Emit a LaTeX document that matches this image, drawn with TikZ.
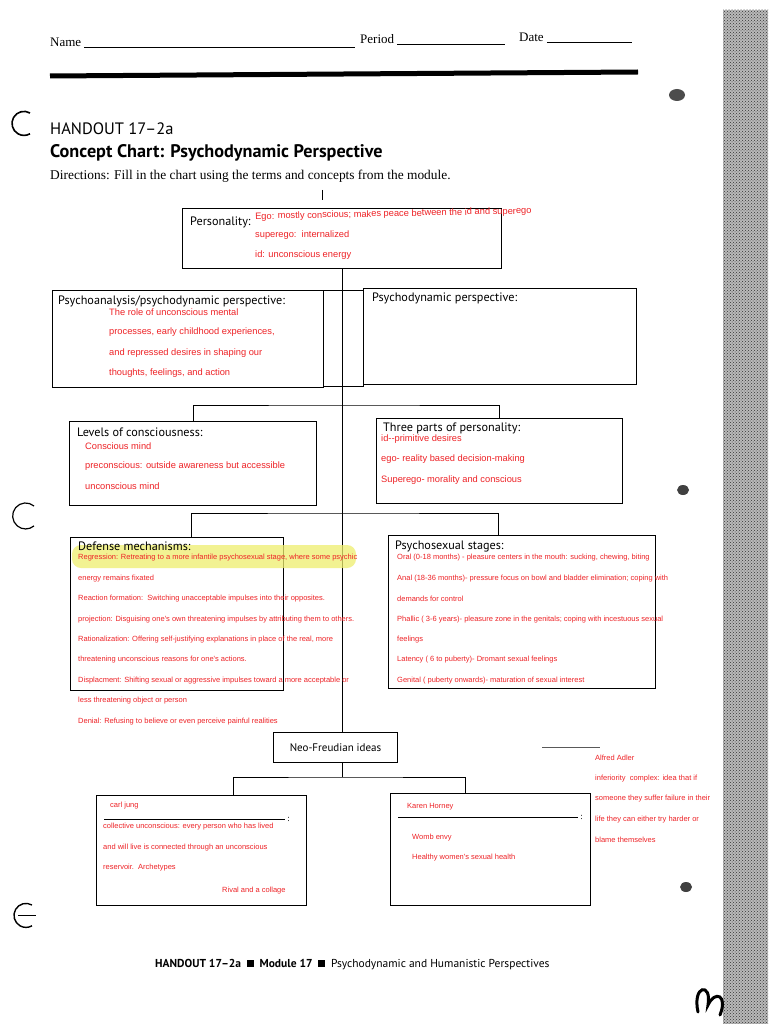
\documentclass[tikz,border=0pt]{standalone}
\usepackage{fontspec}
\setmainfont{Liberation Serif}
\newfontfamily\headfont{PT Sans}
\newfontfamily\inkfont{Liberation Sans}
\usetikzlibrary{positioning}
\usetikzlibrary{patterns}
\definecolor{inkred}{RGB}{238,34,38}
\definecolor{marker}{RGB}{238,238,110}

\begin{document}
\begin{tikzpicture}[x=1pt, y=-1pt,
    chartbox/.style={draw, line width=1pt, inner sep=0pt, anchor=north west},
    head/.style={anchor=west, inner sep=0pt, font=\headfont\fontsize{12.2}{14}\selectfont},
    redtext/.style={anchor=west, inner sep=0pt, text=inkred, font=\inkfont\fontsize{9.3}{11}\selectfont},
    tinyred/.style={redtext, font=\inkfont\fontsize{7.5}{9}\selectfont},
    link/.style={line width=0.9pt},
    blank/.style={line width=0.7pt}]
    \useasboundingbox (0,0) rectangle (768,1024);
    \fill[white] (0,0) rectangle (768,1024);

    % scanned page edge
    \fill[gray!55] (723,10) rectangle (768,1024);
    \fill[pattern=crosshatch dots, pattern color=black!80] (723,10) rectangle (768,1024);

    % punch holes
    \draw[line width=1.6pt] (30,113) arc[start angle=-60, end angle=-300, radius=12];
    \draw[line width=1.2pt] (34,506) arc[start angle=-50, end angle=-310, radius=13];
    \draw[line width=1.4pt] (32,905) arc[start angle=-60, end angle=-300, radius=12];
    \draw[line width=1pt] (18,915) -- (36,915);

    % header
    \node[anchor=base west, inner sep=0pt, font=\fontsize{13}{15}\selectfont] (name) at (50,47) {Name};
    \draw[blank] ([xshift=3pt]name.base east) -- (355,47);
    \node[anchor=base west, inner sep=0pt, font=\fontsize{13}{15}\selectfont] (period) at (360,44) {Period};
    \draw[blank] ([xshift=3pt]period.base east) -- (505,44);
    \node[anchor=base west, inner sep=0pt, font=\fontsize{13}{15}\selectfont] (date) at (519,42) {Date};
    \draw[blank] ([xshift=3pt]date.base east) -- (632,42);
    \draw[line width=5pt] (50,76) -- (638,72);

    \node[anchor=base west, inner sep=0pt, font=\headfont\fontsize{16.5}{19}\selectfont] (handout) at (50,135) {HANDOUT 17–2a};
    \node[anchor=base west, inner sep=0pt, font=\headfont\bfseries\fontsize{18.2}{21}\selectfont] (title) at (50,158) {Concept Chart: Psychodynamic Perspective};
    \node[anchor=base west, inner sep=0pt, font=\fontsize{13.4}{15}\selectfont] (directions) at (50,180) {Directions: Fill in the chart using the terms and concepts from the module.};
    \draw (322,190) -- (322,200);

    % boxes
    \node[chartbox, minimum width=319pt, minimum height=60pt] (pers) at (182,208) {};
    \node[chartbox, minimum width=271pt, minimum height=97pt] (psa) at (52,290) {};
    \node[chartbox, minimum width=40pt, minimum height=96pt] (gap) at (323,290) {};
    \node[chartbox, minimum width=273pt, minimum height=96pt] (psd) at (363,288) {};
    \node[chartbox, minimum width=247pt, minimum height=84pt] (lev) at (69,421) {};
    \node[chartbox, minimum width=246pt, minimum height=85pt] (three) at (376,418) {};
    \node[chartbox, minimum width=213pt, minimum height=153pt] (def) at (70,537) {};
    \node[chartbox, minimum width=267pt, minimum height=153pt] (sex) at (388,535) {};
    \node[chartbox, minimum width=124pt, minimum height=30pt] (neo) at (273,732) {};
    \node[chartbox, minimum width=210pt, minimum height=110pt] (jung) at (96,795) {};
    \node[chartbox, minimum width=200pt, minimum height=112pt] (horney) at (390,793) {};

    % connectors
    \draw[link] (pers.south) -- (pers.south |- neo.north);
    \path (pers.south) ++(0,136) coordinate (j1) ++(0,108) coordinate (j2);
    \draw[link] (lev.north) |- (j1) -| (three.north);
    \draw[link] ([xshift=14.5pt]def.north) |- (j2) -| ([xshift=-23.5pt]sex.north);
    \path (neo.south -| pers.south) ++(0,14) coordinate (j3);
    \draw[link] (neo.south -| pers.south) -- (j3);
    \draw[link] ([xshift=32pt]jung.north) |- (j3) -| ([xshift=-25pt]horney.north);

    % Personality
    \node[head] (perslbl) at (190,222) {Personality:};
    \node[redtext, rotate=1.2] (ego) at (255,217) {Ego: mostly conscious; makes peace between the id and superego};
    \node[redtext] (superego) at (255,235) {superego:\ \ internalized};
    \node[redtext] (id) at (255,255) {id: unconscious energy};

    % perspectives
    \node[head] (psalbl) at (58,301) {Psychoanalysis/psychodynamic perspective:};
    \foreach \t [count=\i] in {The role of unconscious mental, {processes, early childhood experiences,}, and repressed desires in shaping our, {thoughts, feelings, and action}} {
        \node[redtext] (psa\i) at (109,{312+20.5*(\i-1)}) {\t};
    }
    \node[head] (psdlbl) at (372,298) {Psychodynamic perspective:};

    % levels and parts
    \node[head] (levlbl) at (77,432) {Levels of consciousness:};
    \foreach \t [count=\i] in {Conscious mind, preconscious: outside awareness but accessible, unconscious mind} {
        \node[redtext] (lev\i) at (85,{446+20*(\i-1)}) {\t};
    }
    \node[head] (threelbl) at (383,428) {Three parts of personality:};
    \foreach \t [count=\i] in {id--primitive desires, ego- reality based decision-making, Superego- morality and conscious} {
        \node[redtext] (three\i) at (381,{439+20.5*(\i-1)}) {\t};
    }

    % defense mechanisms
    \fill[marker, opacity=0.75, rounded corners=9pt] (72,545) rectangle (356,568);
    \node[head] (deflbl) at (78,546) {Defense mechanisms:};
    \foreach \t [count=\i] in {{Regression: Retreating to a more infantile psychosexual stage, where some psychic},
        energy remains fixated,
        Reaction formation:\ \ Switching unacceptable impulses into their opposites.,
        projection: Disguising one's own threatening impulses by attributing them to others.,
        {Rationalization: Offering self-justifying explanations in place of the real, more},
        threatening unconscious reasons for one's actions.,
        Displacment: Shifting sexual or aggressive impulses toward a more acceptable or,
        less threatening object or person,
        Denial: Refusing to believe or even perceive painful realities} {
        \node[tinyred] (def\i) at (78,{558+20.4*(\i-1)}) {\t};
    }

    % psychosexual stages
    \node[head] (sexlbl) at (395,546) {Psychosexual stages:};
    \foreach \t [count=\i] in {{Oral (0-18 months) - pleasure centers in the mouth: sucking, chewing, biting},
        Anal (18-36 months)- pressure focus on bowl and bladder elimination; coping with,
        demands for control,
        Phallic ( 3-6 years)- pleasure zone in the genitals; coping with incestuous sexual,
        feelings,
        Latency ( 6 to puberty)- Dromant sexual feelings,
        Genital ( puberty onwards)- maturation of sexual interest} {
        \node[tinyred] (sex\i) at (397,{558+20.4*(\i-1)}) {\t};
    }

    % neo-freudians
    \node[font=\headfont\fontsize{11}{13}\selectfont, inner sep=0pt] (neolbl) at (neo.center) {Neo-Freudian ideas};

    \node[tinyred] (jungname) at (110,806) {carl jung};
    \draw[blank] (104,819) -- (285,819) node[right, inner sep=2pt, font=\fontsize{9}{9}\selectfont] (jungcolon) {:};
    \foreach \t [count=\i] in {collective unconscious: every person who has lived, and will live is connected through an unconscious, reservoir.\ \ Archetypes} {
        \node[tinyred] (jung\i) at (103,{827+20.5*(\i-1)}) {\t};
    }
    \node[tinyred] (rival) at (222,891) {Rival and a collage};

    \node[tinyred] (horneyname) at (407,807) {Karen Horney};
    \draw[blank] (398,817) -- (578,817) node[right, inner sep=2pt, font=\fontsize{9}{9}\selectfont] (horneycolon) {:};
    \node[tinyred] (womb) at (412,838) {Womb envy};
    \node[tinyred] (healthy) at (412,858) {Healthy women's sexual health};

    \draw[blank, gray!70!black] (542,747) -- (600,747);
    \foreach \t [count=\i] in {Alfred Adler, inferiority\ \ complex: idea that if, someone they suffer failure in their, life they can either try harder or, blame themselves} {
        \node[tinyred] (adler\i) at (595,{758+20.5*(\i-1)}) {\t};
    }

    % footer
    \node[anchor=base west, inner sep=0pt, font=\headfont\fontsize{11.5}{13}\selectfont] (foot) at (155,967)
        {\textbf{HANDOUT 17–2a}\enspace\rule{7pt}{7pt}\enspace\textbf{Module 17}\enspace\rule{7pt}{7pt}\enspace Psychodynamic and Humanistic Perspectives};

    % smudges and scribble
    \fill[gray!60!black] (677,95) ellipse[x radius=8, y radius=6];
    \fill[gray!50!black] (683,490) ellipse[x radius=6, y radius=5];
    \fill[gray!50!black] (686,887) ellipse[x radius=6, y radius=5];
    \draw[line width=3pt, line cap=round] (698,1012) .. controls (692,985) and (712,982) .. (708,1005) .. controls (715,990) and (728,995) .. (720,1015);
\end{tikzpicture}
\end{document}
